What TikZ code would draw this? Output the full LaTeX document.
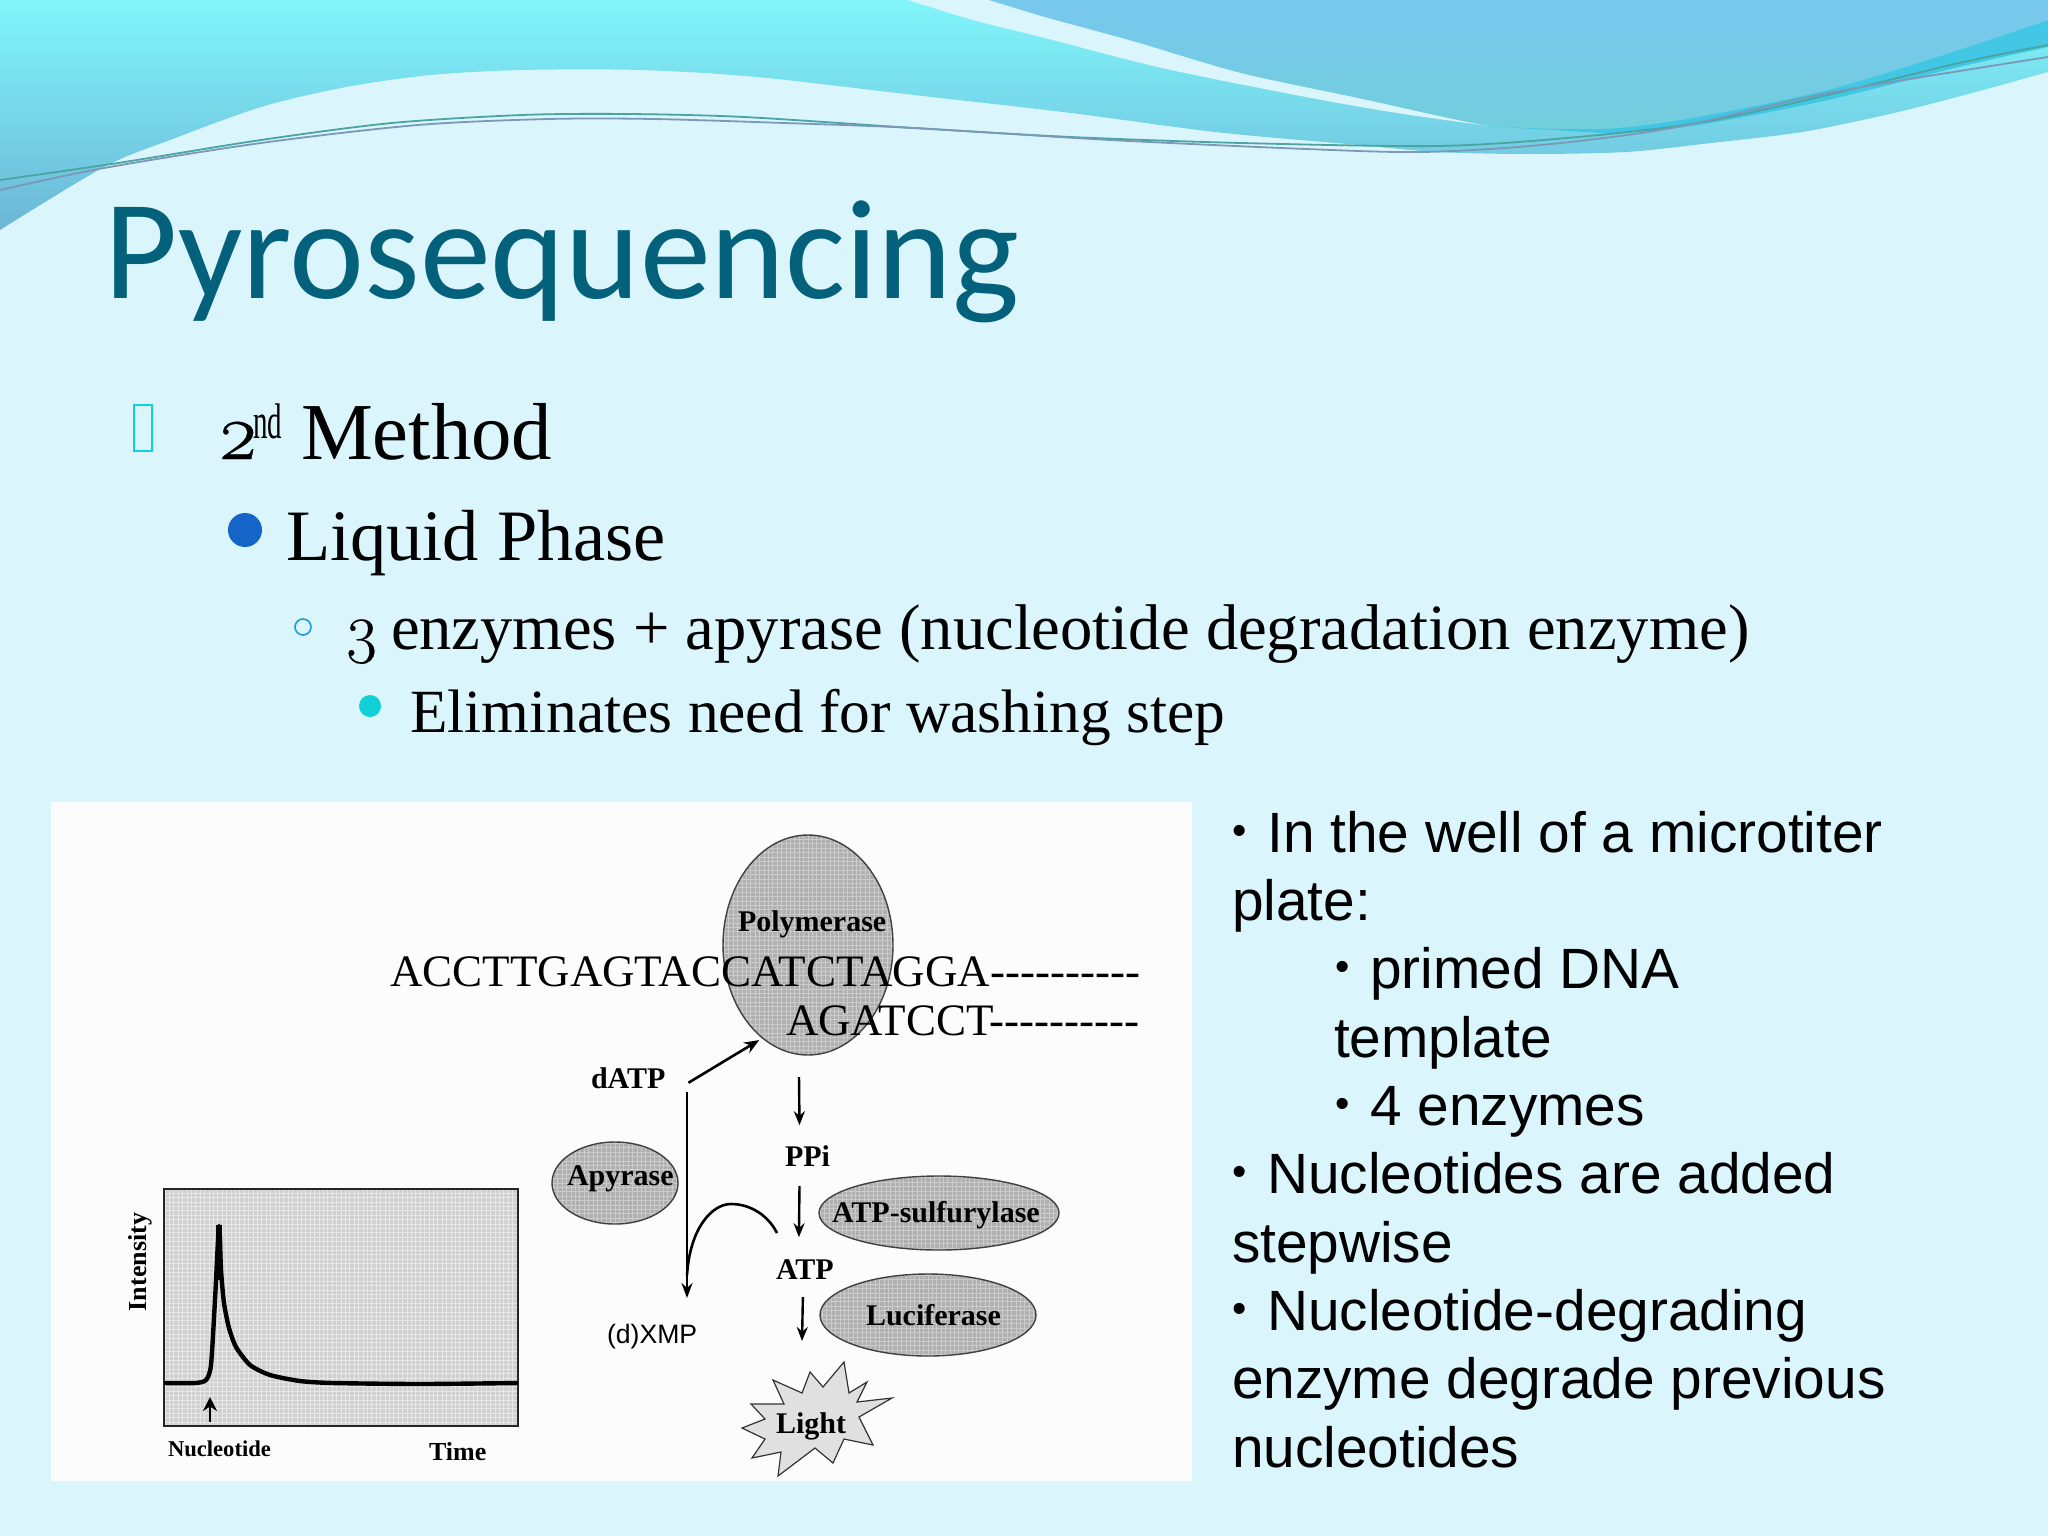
\documentclass[tikz,border=0pt]{standalone}
\usepackage{fontspec}
\setmainfont{Liberation Serif}
\newfontfamily\ttlfont{Carlito}
\newfontfamily\armfont{Liberation Sans}
\newfontfamily\osffont{Latin Modern Roman}[Numbers=OldStyle]
\newfontfamily\osfbold{Latin Modern Roman}[Numbers=OldStyle,FakeBold=0.6]
\newfontfamily\osfsemi{Latin Modern Roman}[Numbers=OldStyle,FakeBold=0.3]
\newcommand{\szf}[1]{\fontsize{#1}{#1}\selectfont}
\newcommand{\hyph}{-{}-{}-{}-{}-{}-{}-{}-{}-{}-}
\newcommand{\rbul}{\makebox[17.6pt][l]{\raisebox{.14em}{\scalebox{.72}{\textbullet}}}}
\usetikzlibrary{shapes.geometric,arrows.meta}
\definecolor{bgpale}{HTML}{DAF5FC}
\definecolor{wavetop}{HTML}{80F6FA}
\definecolor{wavebot}{HTML}{6CB6D6}
\definecolor{bluetop}{HTML}{78C8EE}
\definecolor{bluebot}{HTML}{72CEDC}
\definecolor{ribbon}{HTML}{3EC6E4}
\definecolor{titleteal}{HTML}{04617B}
\definecolor{bulcyan}{HTML}{10D0D8}
\definecolor{bulblue}{HTML}{1565C8}
\definecolor{bulring}{HTML}{1E9BD8}
\definecolor{panelgrey}{HTML}{D0D0D0}
\definecolor{enzgrey}{HTML}{B0B0B0}
\definecolor{linea}{HTML}{4AA5A0}
\definecolor{lineb}{HTML}{7C98B8}
\tikzset{
  txt/.style={anchor=base west,inner sep=0pt,outer sep=0pt},
  bodytxt/.style={txt,text=black},
  rtxt/.style={txt,font=\armfont\szf{28.4},text=black},
  lbl/.style={txt,font=\bfseries\szf{15},text=black},
  halftone/.style={path picture={\draw[white,opacity=.35,line width=.4pt,step=2.2pt]
     (path picture bounding box.south west) grid (path picture bounding box.north east);}},
  enzyme/.style={ellipse,draw=black!75,line width=.7pt,fill=enzgrey,inner sep=0pt,outer sep=0pt,halftone},
  arr/.style={line width=1.2pt,-{Stealth[length=7pt,width=5.5pt]}},
}
\begin{document}
\begin{tikzpicture}[x=0.5pt,y=-0.5pt]
\useasboundingbox (0,0) rectangle (2048,1536);
\fill[bgpale] (0,0) rectangle (2048,1536);
% wave
\shade[top color=wavetop,bottom color=wavebot]
  (0,0) -- plot[smooth] coordinates {(0,230)(104,167)(170,140)(261,107)(346,87)(431,75)(522,70)(640,70)(757,77)(914,95)(1071,113)(1215,132)(1358,145)(1437,152)(1528,154)(1626,152)(1711,143)(1802,132)(1894,113)(1972,93)(2048,72)} -- (2048,0) -- cycle;
\fill[bgpale]
  (908,0) -- plot[smooth] coordinates {(908,0)(973,20)(1045,38)(1162,68)(1306,97)(1397,113)(1489,126)} -- (1489,0) -- cycle;
\shade[top color=bluetop,bottom color=bluebot]
  (989,0) -- plot[smooth] coordinates {(989,0)(1045,17)(1136,42)(1241,73)(1358,98)(1489,126)(1554,129)(1620,128)(1698,117)(1828,90)(1959,50)(2048,20)} -- (2048,0) -- cycle;
\fill[ribbon,opacity=.95]
  plot[smooth] coordinates {(1489,126)(1554,129)(1620,128)(1698,117)(1828,90)(1959,50)(2048,20)} -- (2048,47)
  -- plot[smooth] coordinates {(2048,47)(1959,67)(1828,100)(1698,125)(1619,133)(1554,130)(1489,126)} -- cycle;
\draw[linea,line width=.9pt] plot[smooth] coordinates {(0,180)(118,163)(261,140)(392,123)(522,115)(627,114)(744,117)(914,128)(1071,137)(1241,143)(1437,146)(1567,138)(1698,123)(1828,95)(1959,63)(2048,45)};
\draw[lineb,line width=.9pt] plot[smooth] coordinates {(0,190)(104,168)(261,143)(418,125)(549,119)(653,119)(784,123)(914,128)(1110,140)(1306,149)(1423,152)(1541,145)(1672,128)(1828,93)(2048,57)};
% title
\node[txt,font=\ttlfont\szf{71},text=titleteal] (title) at (104,298) {Pyrosequencing};
% bullets
\draw[bulcyan,line width=1.1pt] (134,405) rectangle (152,451);
\fill[bulblue] (245,530) circle (17);
\draw[bulring,line width=.8pt] (303,627) circle (8);
\fill[bulcyan] (370,706) circle (11);
% body
\node[bodytxt,font=\osfbold\szf{40}] (two) at (217,459) {2};
\node[bodytxt,font=\szf{25}] (nd) at (253,438) {\scalebox{.58}[1]{nd}};
\node[bodytxt,font=\szf{40.4}] (meth) at (301,459) {Method};
\node[bodytxt,font=\szf{36.2}] (liq) at (286,560) {Liquid Phase};
\node[bodytxt,font=\osfsemi\szf{33}] (three) at (344,650) {3};
\node[bodytxt,font=\szf{32.3}] (enz) at (391,649) {enzymes + apyrase (nucleotide degradation enzyme)};
\node[bodytxt,font=\szf{30.7}] (elim) at (410,732) {Eliminates need for washing step};
% white panel
\fill[white!99!black] (51,802) rectangle (1192,1481);
% chart
\node[draw=black!85,line width=.9pt,fill=panelgrey,inner sep=0pt,outer sep=0pt,minimum width=177pt,minimum height=118.5pt,anchor=north west,path picture={\draw[white,opacity=.5,line width=.4pt,step=2.2pt]
     (path picture bounding box.south west) grid (path picture bounding box.north east);}] (chart) at (164,1189) {};
\draw[black,line width=2.2pt,line join=round] plot[smooth,tension=.4] coordinates {(164,1383)(195,1383)(206,1380)(211,1365)(215,1300)(219,1226)(221,1270)(224,1303)(229,1328)(236,1347)(250,1365)(270,1375)(300,1381)(333,1383)(420,1384)(518,1383)};
\draw[black,line width=2.9pt] (219,1225) -- (219.5,1280);
\node[lbl,font=\bfseries\szf{11.3}] (nuc) at (168,1456) {Nucleotide};
\node[lbl,font=\bfseries\szf{13}] (time) at (429,1460) {Time};
\node[lbl,font=\bfseries\szf{13},rotate=90,anchor=base] (inten) at (146,1262) {Intensity};
\coordinate (nucup) at (210,1397);
\draw[line width=.8pt,-{Stealth[length=7pt,width=7pt]}] ([yshift=2pt]chart.south west -| nucup) -- (nucup);
% enzymes
\node[enzyme,minimum width=85pt,minimum height=110pt] (pol) at (808,945) {};
\node[enzyme,minimum width=63pt,minimum height=41pt] (apy) at (615,1183) {};
\node[enzyme,minimum width=120pt,minimum height=37pt] (sulf) at (939,1213) {};
\node[enzyme,minimum width=108pt,minimum height=41pt] (luc) at (928,1315) {};
\node[lbl] (poltxt) at (738,931) {Polymerase};
\node[lbl] (apytxt) at (567,1185) {Apyrase};
\node[lbl] (sulftxt) at (832,1222) {ATP-sulfurylase};
\node[lbl] (luctxt) at (866,1325) {Luciferase};
\node[txt,font=\szf{22.5}] (dna1) at (390,986) {ACCTTGAGTACCATCTAGGA\hyph};
\node[txt,font=\szf{22.5}] (dna2) at (786,1035) {AGATCCT\hyph};
\node[lbl] (datp) at (591,1088) {dATP};
\node[lbl] (ppi) at (785,1166) {PPi};
\node[lbl] (atp) at (776,1279) {ATP};
\node[txt,font=\armfont\szf{13.3}] (xmp) at (607,1343) {(d)XMP};
% light star
\filldraw[draw=black!80,line width=.6pt,fill=black!12] (844,1362)--(849,1393)--(867,1382)--(857,1402)--(892,1398)--(859,1417)--(873,1445)--(844,1439)--(833,1463)--(815,1448)--(778,1476)--(781,1452)--(752,1458)--(765,1439)--(742,1428)--(765,1419)--(751,1404)--(784,1404)--(773,1380)--(802,1393)--(810,1372)--(823,1387)--cycle;
\node[lbl] (light) at (776,1433) {Light};
% connectors
\coordinate (xmpin) at (687,1298);
\coordinate (lightin) at (802,1341);
\coordinate (dvert) at (687,1092);
\draw[line width=1.3pt,shorten >=2pt,-{Stealth[length=7.5pt,width=6pt]}] ([xshift=11.5pt,yshift=-2.5pt]datp.east) -- (pol.244);
\draw[line width=1.3pt,-{Stealth[length=7.5pt,width=5.5pt]}] (dvert) -- (xmpin);
\draw[line width=1.3pt] (687,1275) .. controls (690,1228) and (712,1204) .. (731,1204) .. controls (750,1204) and (768,1215) .. (777,1233);
\draw[arr] ([xshift=-4.5pt,yshift=-11pt]pol.south) -- ([xshift=-4pt,yshift=10pt]ppi.north);
\draw[arr] ([xshift=-4pt,yshift=-10pt]ppi.south) -- ([xshift=-3pt,yshift=11pt]atp.north);
\draw[arr] ([xshift=-1pt,yshift=-9pt]atp.south) -- (lightin);
% right text
\node[rtxt] (r1) at (1232,852) {\rbul In the well of a microtiter};
\node[rtxt] (r2) at (1232,920) {plate:};
\node[rtxt] (r3) at (1335,988) {\rbul primed DNA};
\node[rtxt] (r4) at (1334,1057) {template};
\node[rtxt] (r5) at (1335,1125) {\rbul 4 enzymes};
\node[rtxt] (r6) at (1232,1193) {\rbul Nucleotides are added};
\node[rtxt] (r7) at (1232,1262) {stepwise};
\node[rtxt] (r8) at (1232,1330) {\rbul Nucleotide-degrading};
\node[rtxt] (r9) at (1232,1398) {enzyme degrade previous};
\node[rtxt] (r10) at (1232,1467) {nucleotides};
\end{tikzpicture}
\end{document}
